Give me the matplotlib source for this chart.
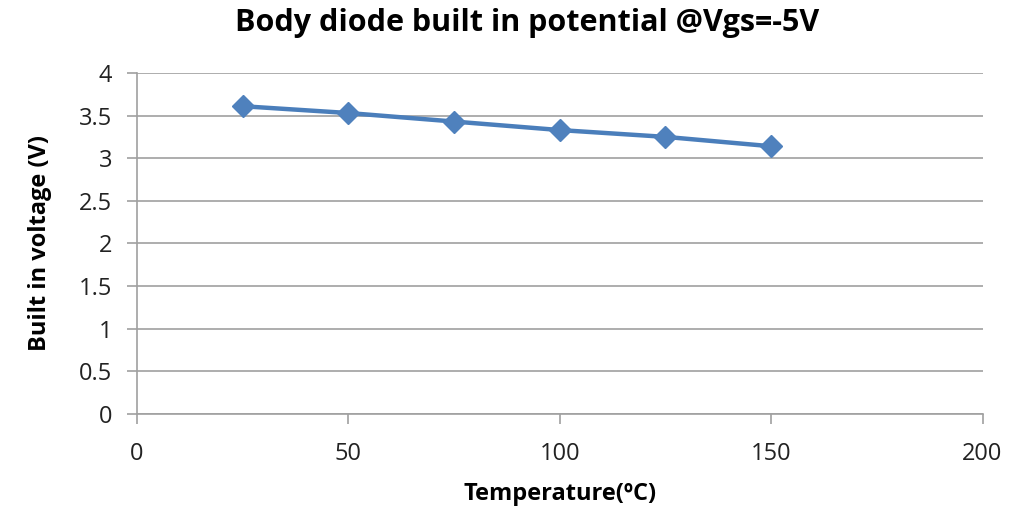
import matplotlib
matplotlib.use("Agg")
import matplotlib.pyplot as plt

plt.rcParams['font.family'] = ['Open Sans', 'DejaVu Sans']

# Dados
temperatura = [25, 50, 75, 100, 125, 150]
tensao = [3.61, 3.53, 3.43, 3.33, 3.25, 3.14]
xticks = [0, 50, 100, 150, 200]
yticks = [0, 0.5, 1, 1.5, 2, 2.5, 3, 3.5, 4]
ytick_labels = ["0", "0.5", "1", "1.5", "2", "2.5", "3", "3.5", "4"]

fig = plt.figure(figsize=(10.15, 5.14), dpi=100)
ax = fig.add_axes([0.135, 0.195, 0.833, 0.663])

ax.plot(temperatura, tensao, color="#4A7EBB", linewidth=3.2,
        marker="D", markersize=11, markerfacecolor="#4F81BD",
        markeredgecolor="#4F81BD", zorder=3)

ax.set_xlim(0, 200)
ax.set_ylim(0, 4)
ax.set_xticks(xticks)
ax.set_yticks(yticks)
ax.set_yticklabels(ytick_labels)

ax.grid(axis="y", color="#A0A0A0", linewidth=1.2)
ax.set_axisbelow(True)
for s in ["top", "right"]:
    ax.spines[s].set_visible(False)
for s in ["left", "bottom"]:
    ax.spines[s].set_color("#A0A0A0")
    ax.spines[s].set_linewidth(1.2)
ax.tick_params(axis="both", direction="out", length=7, width=1.2,
               color="#A0A0A0", labelsize=17, labelcolor="#222222")
ax.tick_params(axis="x", pad=13)
ax.tick_params(axis="y", pad=11)

ax.set_xlabel("Temperature(ºC)", fontsize=17, fontweight="bold", labelpad=12)
ax.set_ylabel("Built in voltage (V)", fontsize=17, fontweight="bold", labelpad=19)
fig.suptitle("Body diode built in potential @Vgs=-5V", fontsize=22,
             fontweight="bold", x=0.519, y=0.985)

fig.savefig("out.png", dpi=100)
